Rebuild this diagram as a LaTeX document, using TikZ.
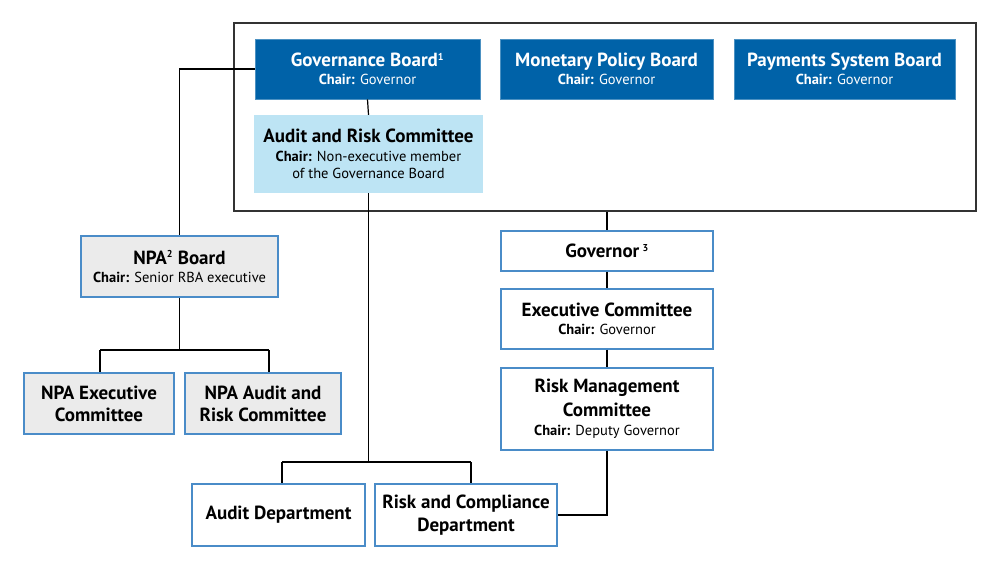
\documentclass[tikz,border=0pt]{standalone}
\usepackage{fontspec}
\setmainfont{PT Sans}
\definecolor{rbablue}{HTML}{0062A8}
\definecolor{lightbl}{HTML}{BDE4F4}
\definecolor{greyfill}{HTML}{EBEBEB}
\definecolor{edgeblue}{HTML}{4A8CC8}
\definecolor{framegrey}{HTML}{333333}
\newcommand\ttl[1]{{\fontsize{19}{22}\selectfont\bfseries #1}}
\newcommand\chr[1]{{\fontsize{14.5}{17}\selectfont\textbf{Chair:} #1}}
\tikzset{
  basebox/.style={rectangle, inner sep=2pt, align=center, font=\fontsize{14.5}{17}\selectfont},
  darkbox/.style={basebox, fill=rbablue, draw=rbablue!70!white, line width=0.6pt, text=white},
  lightbox/.style={basebox, fill=lightbl, draw=none, text=black},
  greybox/.style={basebox, fill=greyfill, draw=edgeblue, line width=1.1pt, text=black},
  whitebox/.style={basebox, fill=white, draw=edgeblue, line width=1.1pt, text=black},
  frame/.style={rectangle, draw=framegrey, line width=1.8pt},
  link/.style={draw=black, line width=1.2pt}
}
\begin{document}
\begin{tikzpicture}[x=1pt,y=-1pt]
\useasboundingbox (0,0) rectangle (1000,569);
% outer frame
\node[frame, minimum width=742pt, minimum height=188pt] (outer) at (605,117) {};
% top boards
\node[darkbox, minimum width=225pt, minimum height=60pt] (gb) at (367.5,69)
  {\ttl{Governance Board\textsuperscript{\fontsize{10}{10}\selectfont 1}}\\[1pt]\chr{Governor}};
\node[darkbox, minimum width=213pt, minimum height=60pt] (mpb) at (606.5,69)
  {\ttl{Monetary Policy Board}\\[1pt]\chr{Governor}};
\node[darkbox, minimum width=221pt, minimum height=60pt] (psb) at (844.5,69)
  {\ttl{Payments System Board}\\[1pt]\chr{Governor}};
\node[lightbox, minimum width=229pt, minimum height=78pt] (arc) at (368.5,154)
  {\ttl{Audit and Risk Committee}\\[2pt]\chr{Non-executive member}\\ of the Governance Board};
% NPA
\node[greybox, minimum width=197pt, minimum height=61pt] (npab) at (179.5,266.5)
  {\ttl{NPA\textsuperscript{\fontsize{10}{10}\selectfont 2} Board}\\[1pt]\chr{Senior RBA executive}};
\node[greybox, minimum width=150pt, minimum height=61pt] (npae) at (99,403.5)
  {\ttl{NPA Executive}\\[5pt] \ttl{Committee}};
\node[greybox, minimum width=156pt, minimum height=61pt] (npaa) at (263,403.5)
  {\ttl{NPA Audit and}\\[5pt] \ttl{Risk Committee}};
% governor chain
\node[whitebox, minimum width=212pt, minimum height=40pt] (gov) at (607,251)
  {\ttl{Governor\,\textsuperscript{\fontsize{10}{10}\selectfont 3}}};
\node[whitebox, minimum width=212pt, minimum height=60pt] (ec) at (607,319)
  {\ttl{Executive Committee}\\[1pt]\chr{Governor}};
\node[whitebox, minimum width=212pt, minimum height=82pt] (rmc) at (607,409)
  {\ttl{Risk Management}\\[5pt] \ttl{Committee}\\[2pt]\chr{Deputy Governor}};
% departments
\node[whitebox, minimum width=173pt, minimum height=62pt] (ad) at (278.5,515)
  {\ttl{Audit Department}};
\node[whitebox, minimum width=182pt, minimum height=62pt] (rc) at (466,515)
  {\ttl{Risk and Compliance}\\[5pt] \ttl{Department}};
% connectors
\draw[link] (gb.west) -| (npab.north);
\draw[link] (gb.south) -- (arc.north);
\coordinate (jl) at (282,462);
\coordinate (jr) at (471,462);
\draw[link] (arc.south) -- (arc.south |- jl);
\draw[link] (jl) -- (jr);
\draw[link] (jl) -- (jl |- ad.north);
\draw[link] (jr) -- (jr |- rc.north);
\coordinate (nl) at (100,350);
\coordinate (nr) at (269,350);
\draw[link] (npab.south) -- (npab.south |- nl);
\draw[link] (nl) -- (nr);
\draw[link] (nl) -- (nl |- npae.north);
\draw[link] (nr) -- (nr |- npaa.north);
\draw[link] (outer.south -| gov.north) -- (gov.north);
\draw[link] (gov.south) -- (ec.north);
\draw[link] (ec.south) -- (rmc.north);
\draw[link] (rmc.south) |- (rc.east);
\end{tikzpicture}
\end{document}
